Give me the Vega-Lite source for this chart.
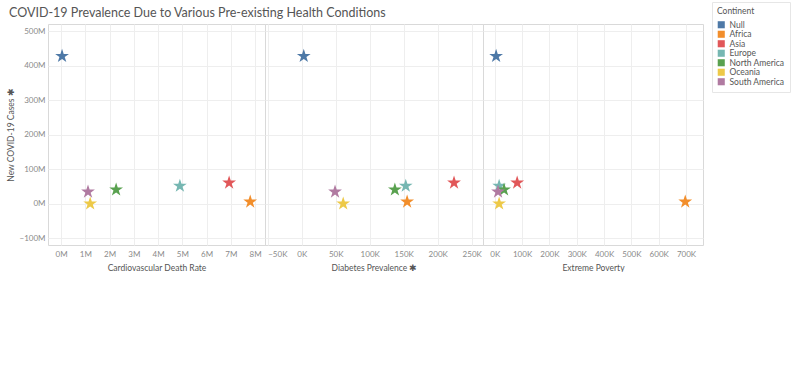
{
  "$schema": "https://vega.github.io/schema/vega-lite/v6.json",
  "padding": {"left": 5, "top": 1, "right": 0, "bottom": 0},
  "background": "white",
  "bounds": "flush",
  "data": {"values": [
    {"Continent": "Null", "Cardio": 40000, "Diabetes": 3000, "Poverty": 5000, "Cases": 428000000},
    {"Continent": "Africa", "Cardio": 7800000, "Diabetes": 155000, "Poverty": 697000, "Cases": 6000000},
    {"Continent": "Asia", "Cardio": 6930000, "Diabetes": 224000, "Poverty": 82000, "Cases": 61000000},
    {"Continent": "Europe", "Cardio": 4900000, "Diabetes": 153000, "Poverty": 16000, "Cases": 52000000},
    {"Continent": "North America", "Cardio": 2270000, "Diabetes": 137000, "Poverty": 34000, "Cases": 41000000},
    {"Continent": "Oceania", "Cardio": 1200000, "Diabetes": 61000, "Poverty": 16000, "Cases": 500000},
    {"Continent": "South America", "Cardio": 1110000, "Diabetes": 49000, "Poverty": 12000, "Cases": 35000000}
  ]},
  "spacing": 0,
  "hconcat": [
    {
      "width": 217, "height": 221,
      "title": {"text": "COVID-19 Prevalence Due to Various Pre-existing Health Conditions", "anchor": "start", "frame": "bounds", "font": "Lato", "fontSize": 12.5, "fontWeight": "normal", "color": "#555555", "offset": 5, "dx": 3},
      "mark": {"type": "point", "filled": true, "opacity": 1, "size": 210, "shape": "M0,-1L0.2245,-0.309L0.951,-0.309L0.363,0.118L0.588,0.809L0,0.382L-0.588,0.809L-0.363,0.118L-0.951,-0.309L-0.2245,-0.309Z"},
      "encoding": {
        "x": {"field": "Cardio", "type": "quantitative", "title": "Cardiovascular Death Rate", "scale": {"domain": [-540000, 8410000], "nice": false, "zero": false}, "axis": {"values": [0, 1000000, 2000000, 3000000, 4000000, 5000000, 6000000, 7000000, 8000000], "labelExpr": "format(datum.value/1000000,'d') + 'M'"}},
        "y": {"field": "Cases", "type": "quantitative", "title": "New COVID-19 Cases ✱", "scale": {"domain": [-119000000, 521000000], "nice": false, "zero": false}, "axis": {"values": [-100000000, 0, 100000000, 200000000, 300000000, 400000000, 500000000], "labelExpr": "format(datum.value/1000000,'d') + 'M'"}},
        "color": {"field": "Continent", "type": "nominal", "sort": null, "scale": {"domain": ["Null", "Africa", "Asia", "Europe", "North America", "Oceania", "South America"], "range": ["#4E79A7", "#F28E2B", "#E15759", "#76B7B2", "#59A14F", "#EDC948", "#B07AA1"]}}
      }
    },
    {
      "width": 218, "height": 221,
      "mark": {"type": "point", "filled": true, "opacity": 1, "size": 210, "shape": "M0,-1L0.2245,-0.309L0.951,-0.309L0.363,0.118L0.588,0.809L0,0.382L-0.588,0.809L-0.363,0.118L-0.951,-0.309L-0.2245,-0.309Z"},
      "encoding": {
        "x": {"field": "Diabetes", "type": "quantitative", "title": "Diabetes Prevalence ✱", "scale": {"domain": [-54000, 266600], "nice": false, "zero": false}, "axis": {"values": [-50000, 0, 50000, 100000, 150000, 200000, 250000], "labelFlush": 4, "labelExpr": "format(datum.value/1000,'d') + 'K'"}},
        "y": {"field": "Cases", "type": "quantitative", "scale": {"domain": [-119000000, 521000000], "nice": false, "zero": false}, "axis": {"values": [-100000000, 0, 100000000, 200000000, 300000000, 400000000, 500000000], "labels": false, "title": null, "domain": false, "minExtent": 0, "labelPadding": 0, "offset": 0}},
        "color": {"field": "Continent", "type": "nominal", "sort": null}
      }
    },
    {
      "width": 220, "height": 221,
      "mark": {"type": "point", "filled": true, "opacity": 1, "size": 210, "shape": "M0,-1L0.2245,-0.309L0.951,-0.309L0.363,0.118L0.588,0.809L0,0.382L-0.588,0.809L-0.363,0.118L-0.951,-0.309L-0.2245,-0.309Z"},
      "encoding": {
        "x": {"field": "Poverty", "type": "quantitative", "title": "Extreme Poverty", "scale": {"domain": [-43000, 762000], "nice": false, "zero": false}, "axis": {"values": [0, 100000, 200000, 300000, 400000, 500000, 600000, 700000], "labelExpr": "format(datum.value/1000,'d') + 'K'"}},
        "y": {"field": "Cases", "type": "quantitative", "scale": {"domain": [-119000000, 521000000], "nice": false, "zero": false}, "axis": {"values": [-100000000, 0, 100000000, 200000000, 300000000, 400000000, 500000000], "labels": false, "title": null, "domain": false, "minExtent": 0, "labelPadding": 0, "offset": 0}},
        "color": {"field": "Continent", "type": "nominal", "sort": null}
      }
    }
  ],
  "config": {
    "font": "Lato",
    "view": {"stroke": "#d9d9d9"},
    "axis": {"ticks": false, "domain": false, "gridColor": "#eeeeee", "labelColor": "#8a8a8a", "labelFontSize": 8, "titleColor": "#555555", "titleFontSize": 8.5, "titleFontWeight": "normal", "labelFont": "Lato", "titleFont": "Lato", "labelPadding": 5},
    "axisX": {"titlePadding": 5},
    "axisY": {"titlePadding": 4, "labelPadding": 3},
    "legend": {"orient": "none", "legendX": 664, "legendY": -22, "symbolType": "square", "symbolSize": 50, "titleFontSize": 8.5, "titleFontWeight": "normal", "titleColor": "#555555", "labelFontSize": 8.5, "labelColor": "#555555", "rowPadding": 0.5, "padding": 5, "fillColor": "white", "strokeColor": "#e6e6e6", "symbolStrokeWidth": 0, "labelFont": "Lato", "titleFont": "Lato", "titlePadding": 5, "symbolOpacity": 1, "labelOffset": 4}
  }
}
